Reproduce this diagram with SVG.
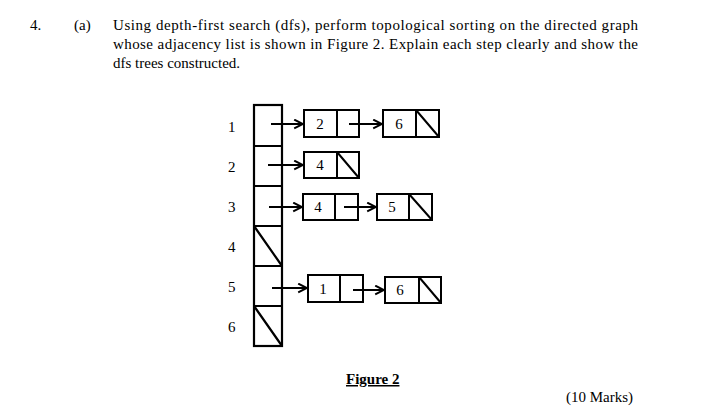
<svg xmlns="http://www.w3.org/2000/svg" width="709" height="418" viewBox="0 0 709 418">
<style>
text{font-family:"Liberation Serif",serif;font-size:15px;fill:#000}
.b{fill:none;stroke:#000;stroke-width:2.2}
.c{fill:none;stroke:#000;stroke-width:2}
.n{font-size:15px;text-anchor:middle}
</style>
<defs><marker id="a" viewBox="0 0 10 10" refX="9" refY="5" markerWidth="11" markerHeight="11" orient="auto" markerUnits="userSpaceOnUse"><path d="M1,1L9,5L1,9" fill="none" stroke="#000" stroke-width="1.8"/></marker></defs>
<rect width="709" height="418" fill="#fff"/>
<text x="30" y="30">4.</text><text x="74" y="30">(a)</text>
<text x="113" y="30" textLength="525">Using depth-first search (dfs), perform topological sorting on the directed graph</text>
<text x="113" y="49" textLength="525">whose adjacency list is shown in Figure 2.  Explain each step clearly and show the</text>
<text x="113" y="68">dfs trees constructed.</text>
<g id="labels"><text x="228" y="132">1</text><text x="228" y="172">2</text><text x="228" y="212">3</text><text x="228" y="252">4</text><text x="228" y="292">5</text><text x="228" y="332">6</text></g>
<g id="array">
<rect class="b" x="254" y="105" width="28" height="241"/>
<path class="b" d="M254 146H282M254 186H282M254 226H282M254 266H282M254 306H282M254 226L282 266M254 306L282 346"/>
</g>
<g id="n12"><rect class="c" x="304" y="110" width="55" height="27"/><path class="c" d="M337 110V137"/><text class="n" x="320" y="129">2</text></g>
<g id="n16"><rect class="c" x="383" y="110" width="56" height="27"/><path class="c" d="M416 110V137M416 110L439 137"/><text class="n" x="399" y="129">6</text></g>
<g id="n24"><rect class="c" x="304" y="152" width="55" height="26"/><path class="c" d="M337 152V178M337 152L359 178"/><text class="n" x="320" y="170">4</text></g>
<g id="n34"><rect class="c" x="303" y="194" width="55" height="26"/><path class="c" d="M335 194V220"/><text class="n" x="318" y="212">4</text></g>
<g id="n35"><rect class="c" x="377" y="194" width="55" height="26"/><path class="c" d="M409 194V220M409 194L432 220"/><text class="n" x="392" y="212">5</text></g>
<g id="n51"><rect class="c" x="308" y="275" width="55" height="27"/><path class="c" d="M340 275V302"/><text class="n" x="323" y="294">1</text></g>
<g id="n56"><rect class="c" x="385" y="277" width="56" height="26"/><path class="c" d="M419 277V303M419 277L441 303"/><text class="n" x="400" y="295">6</text></g>
<g id="connectors" class="c" marker-end="url(#a)">
<path d="M271 124H303"/><path d="M349 124H382"/>
<path d="M268 165H303"/>
<path d="M269 207H302"/><path d="M344 207H376"/>
<path d="M272 288H307"/><path d="M353 290H384"/>
</g>
<text x="346" y="384" font-weight="bold" text-decoration="underline">Figure 2</text>
<text x="566" y="402">(10 Marks)</text>
</svg>
